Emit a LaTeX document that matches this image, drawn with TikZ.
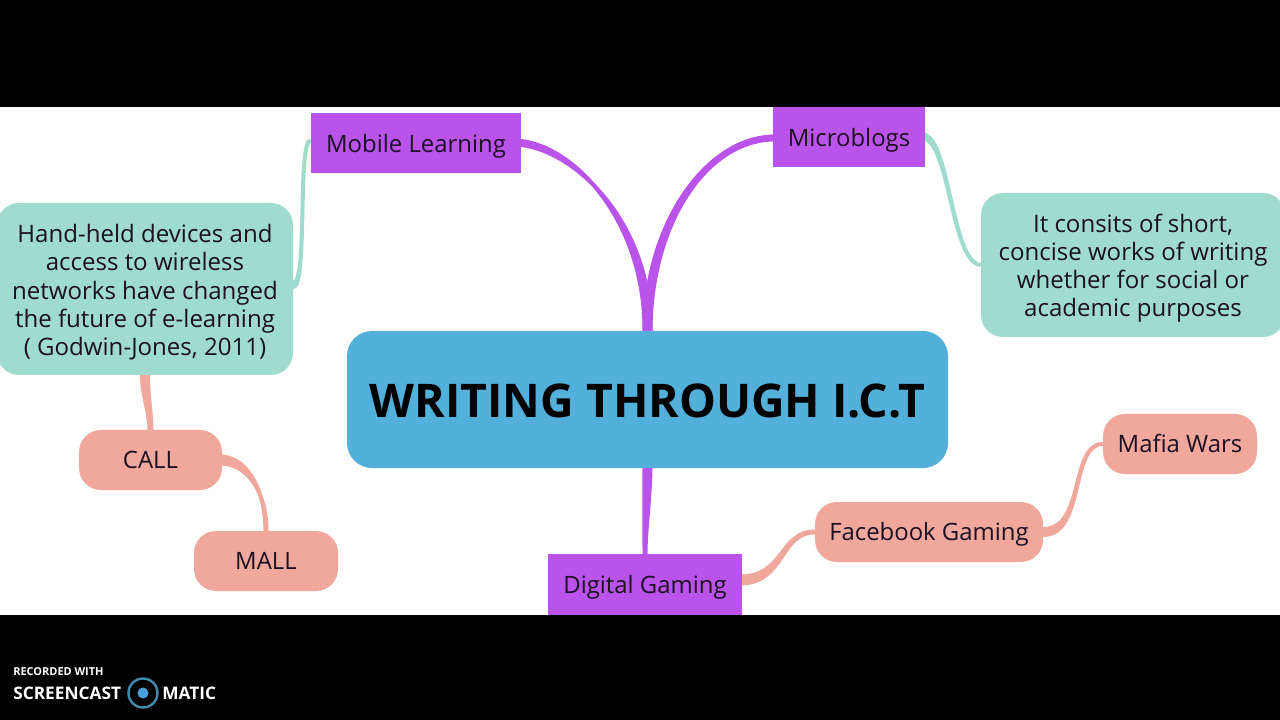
\documentclass[tikz,border=0pt]{standalone}
\usepackage{fontspec}
\setmainfont{Open Sans}
\usetikzlibrary{calc,backgrounds}
\definecolor{branchpurple}{HTML}{B953E9}
\definecolor{hubblue}{HTML}{52B0DA}
\definecolor{noteteal}{HTML}{A0DCCD}
\definecolor{leafsalmon}{HTML}{F0A79C}
\definecolor{inktext}{HTML}{1C1022}
\def\px{0.025cm}
\def\branch[#1](#2)(#3)(#4)(#5)(#6)(#7){\begin{scope}[on background layer]\draw[draw=#1,fill=#1,line width=4*\px] ($(#2)+(#6)$) .. controls ($(#3)+(#6)$) and ($(#4)+(#7)$) .. ($(#5)+(#7)$) -- ($(#5)-(#7)$) .. controls ($(#4)-(#7)$) and ($(#3)-(#6)$) .. ($(#2)-(#6)$) -- cycle;\end{scope}}
\tikzset{
	topic/.style={fill=branchpurple, text=inktext, minimum height=60*\px, inner sep=0pt, text height=13.5pt, text depth=0pt, font=\fontsize{17}{20}\selectfont},
	note/.style={fill=noteteal, text=inktext, rounded corners=22*\px, inner sep=0pt, align=center, font=\fontsize{17.1}{20}\selectfont},
	leaf/.style={fill=leafsalmon, text=inktext, rounded corners=22*\px, minimum height=60*\px, inner sep=0pt, text height=12.7pt, text depth=0pt, font=\fontsize{17}{20}\selectfont},
	logotext/.style={text=white, inner sep=0pt, anchor=west, font=\bfseries}
}
\begin{document}
\begin{tikzpicture}[x=0.025cm, y=-0.025cm]
	%%%%% START %%%%%
	\useasboundingbox (0, 0) rectangle (1280, 720);
	\begin{scope}[on background layer]
		\fill[black] (0, 0) rectangle (1280, 720);
		\fill[white] (0, 107) rectangle (1280, 615);
	\end{scope}

	\node[fill=hubblue, text=black, rounded corners=25*\px, minimum width=601*\px, minimum height=137*\px, text height=25pt, text depth=0pt, inner sep=0pt, font=\fontsize{33}{36}\bfseries\selectfont] (hub) at (647.5, 399.5) {WRITING THROUGH I.C.T};

	\node[topic, minimum width=210*\px] (mobile) at (416, 143) {Mobile Learning};
	\node[topic, minimum width=152*\px] (micro) at (849, 137) {Microblogs};
	\node[topic, minimum width=194*\px, minimum height=61*\px] (digital) at (645, 584.5) {Digital Gaming};

	\node[note, minimum width=296*\px, minimum height=172*\px] (handheld) at (145, 289) {\rule{0pt}{17.5pt}Hand-held devices and\\access to wireless\\networks have changed\\the future of e-learning\\( Godwin-Jones, 2011)};
	\node[note, minimum width=304*\px, minimum height=144*\px] (consists) at (1133, 265) {\rule{0pt}{18pt}It consits of short,\\concise works of writing\\whether for social or\\academic purposes};

	\node[leaf, minimum width=143*\px] (call) at (150.5, 460) {CALL};
	\node[leaf, minimum width=144*\px] (mall) at (266, 561) {MALL};
	\node[leaf, minimum width=228*\px] (facebook) at (929, 532) {Facebook Gaming};
	\node[leaf, minimum width=154*\px] (mafia) at (1180, 444) {Mafia Wars};

	\branch[branchpurple](mobile.east)(578, 150)(648, 225)(hub.north)(0, 2)(3, 0);
	\branch[branchpurple](micro.west |- 0, 138)(705, 140)(648, 225)(hub.north)(0, 1.5)(3, 0);
	\branch[branchpurple](hub.south)(647, 500)(645, 530)(digital.north)(3, 0)(0.5, 0);

	\branch[noteteal](mobile.west |- 0, 140)(297, 142)(308, 285)(handheld.east |- 0, 285)(0, 0)(0, 2);
	\branch[noteteal](micro.east |- 0, 137)(950, 146)(952, 263)(consists.west)(0, 2)(0, 0);

	\branch[leafsalmon](handheld.south -| 145, 0)(145, 395)(150, 410)(call.north)(3, 0)(1, 0);
	\branch[leafsalmon](call.east)(250, 462)(266, 495)(mall.north)(0, 3.5)(0.5, 0);
	\branch[leafsalmon](digital.east |- 0, 580)(785, 578)(780, 532)(facebook.west)(0, 3.5)(0, 0.5);
	\branch[leafsalmon](facebook.east)(1085, 532)(1070, 444)(mafia.west)(0, 3)(0, 0);

	\node[logotext, font=\fontsize{7.8}{10}\bfseries\selectfont] (recorded) at (13, 671.5) {RECORDED WITH};
	\node[logotext, font=\fontsize{12.3}{14}\bfseries\selectfont] (screencast) at (13, 693) {SCREENCAST};
	\node[logotext, font=\fontsize{12.3}{14}\bfseries\selectfont] (matic) at (162, 693) {MATIC};
	\draw[line width=0.06cm, color=hubblue!80!black] (143, 693) circle (14.5);
	\fill[color=hubblue!90!blue] (143, 693) circle (5.5);
	%%%%% END %%%%%
\end{tikzpicture}
\end{document}
